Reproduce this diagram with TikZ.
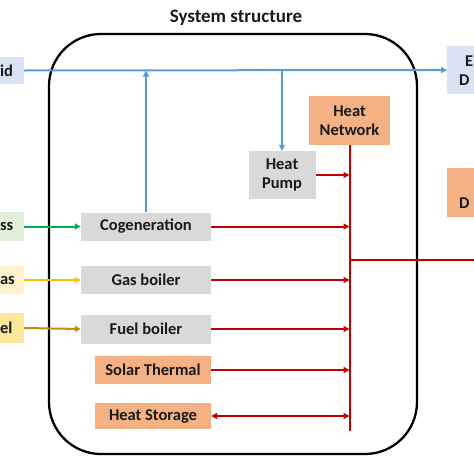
\documentclass[tikz,border=0pt]{standalone}
\usepackage{fontspec}
\setmainfont{Carlito}
\usetikzlibrary{arrows.meta}
\definecolor{blueline}{HTML}{5B9BD5}
\definecolor{redline}{HTML}{C00000}
\definecolor{greyfill}{HTML}{D9D9D9}
\definecolor{orangefill}{HTML}{F4B183}
\definecolor{bluefill}{HTML}{DAE3F3}
\definecolor{greenfill}{HTML}{E2F0D9}
\definecolor{gasfill}{HTML}{FFF2CC}
\definecolor{fuelfill}{HTML}{FFE699}
\definecolor{greenline}{HTML}{00B050}
\definecolor{yellowline}{HTML}{FFC000}
\definecolor{goldline}{HTML}{BF9000}
\definecolor{textcol}{HTML}{1A1A1A}
\begin{document}
\begin{tikzpicture}[x=1pt,y=-1pt,
  font=\bfseries\fontsize{16.5}{19.5}\selectfont, text=textcol,
  box/.style={inner sep=0pt, align=center},
  grey/.style={box, fill=greyfill},
  orange/.style={box, fill=orangefill},
  partial/.style={inner xsep=0pt, inner ysep=0pt, text width=24pt, align=left, minimum height=#1},
  tip/.style={-{Triangle[length=6pt,width=6pt]}},
  bluearrow/.style={draw=blueline, line width=2pt, tip},
  redarrow/.style={draw=redline, line width=2pt, tip},
  redline/.style={draw=redline, line width=2pt}]
\useasboundingbox (0,0) rectangle (474,474);
\begin{scope}
\clip (0,0) rectangle (474,474);
% title and frame
\node (title) [font=\bfseries\fontsize{19}{22}\selectfont] at (236,18) {System structure};
\node (sys) [draw, line width=2.3pt, rounded corners=52pt, minimum width=368pt, minimum height=420pt] at (233,244) {};
% outside boxes
\node (grid) [partial=27pt, fill=bluefill] at (12,70.5) {id};
\node (bio) [partial=29pt, fill=greenfill] at (12,226.5) {ss};
\node (gas) [partial=28pt, fill=gasfill] at (12,280) {as};
\node (fuel) [partial=30pt, fill=fuelfill] at (12,328) {el};
\node (edem) [box, fill=bluefill, minimum width=30pt, minimum height=48pt, anchor=west] at (447,70) {};
\node (edemt) [anchor=west, inner sep=0pt] at (465,61) {E};
\node (edemd) [anchor=west, inner sep=0pt] at (459,80) {D};
\node (hdem) [box, fill=orangefill, minimum width=30pt, minimum height=49pt, anchor=west] at (447,192.5) {};
\node (hdemd) [anchor=west, inner sep=0pt] at (459,203) {D};
% inside boxes
\node (hn) [orange, minimum width=81pt, minimum height=49pt] at (349.5,120.5) {Heat\\Network};
\node (hp) [grey, minimum width=67pt, minimum height=48pt] at (282,175) {Heat\\Pump};
\node (cog) [grey, minimum width=130pt, minimum height=28pt] at (146,226.5) {Cogeneration};
\node (gb) [grey, minimum width=130pt, minimum height=28pt] at (146,280) {Gas boiler};
\node (fb) [grey, minimum width=130pt, minimum height=29pt] at (146,329) {Fuel boiler};
\node (st) [orange, minimum width=116pt, minimum height=28pt] at (153,370) {Solar Thermal};
\node (hs) [orange, minimum width=116pt, minimum height=26pt] at (153,416) {Heat Storage};
% electricity
\draw[bluearrow] (grid.east) -- (edem.west);
\draw[bluearrow] (cog.north) -- (cog.north |- grid.east);
\draw[bluearrow] (hp.north |- grid.east) -- (hp.north);
% fuel inputs
\draw[draw=greenline, line width=2pt, tip] (bio.east) -- (cog.west);
\draw[draw=yellowline, line width=2pt, tip] (gas.east) -- (gb.west);
\draw[draw=goldline, line width=2pt, tip] (fuel.east) -- (fb.west);
% heat bus
\coordinate (busend) at (hn.south |- 0,431);
\coordinate (busjoin) at (hn.south |- 0,260);
\coordinate (heatout) at (474,260);
\draw[redline] (hn.south) -- (busend);
\draw[redline] (busjoin) -- (heatout);
\draw[redarrow] (hp.east) -- (hp.east -| hn.south);
\draw[redarrow] (cog.east) -- (cog.east -| hn.south);
\draw[redarrow] (gb.east) -- (gb.east -| hn.south);
\draw[redarrow] (fb.east) -- (fb.east -| hn.south);
\draw[redarrow] (st.east) -- (st.east -| hn.south);
\draw[redarrow, {Triangle[length=6pt,width=6pt]}-{Triangle[length=6pt,width=6pt]}] (hs.east) -- (hs.east -| hn.south);
\end{scope}
\end{tikzpicture}
\end{document}
